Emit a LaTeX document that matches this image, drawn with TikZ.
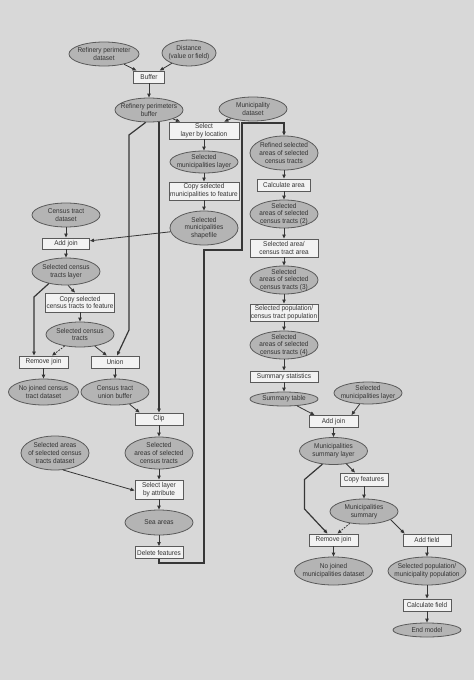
\documentclass[tikz,border=0pt]{standalone}
\usepackage{fontspec}
\setmainfont{Liberation Sans}[FakeStretch=0.92]
\usetikzlibrary{shapes.geometric,arrows.meta}
\definecolor{bg}{HTML}{D8D8D8}
\definecolor{efill}{HTML}{B4B4B4}
\definecolor{bfill}{HTML}{F2F2F2}
\definecolor{ln}{HTML}{363636}
\definecolor{txt}{HTML}{333333}
\definecolor{edge}{HTML}{5A5A5A}
\begin{document}
\begin{tikzpicture}[x=1pt,y=-1pt,
  fs/.style={font=\fontsize{7}{7.7}\selectfont, text=txt},
  ell/.style={ellipse, draw=edge, line width=0.8pt, fill=efill, inner sep=0pt},
  E/.style 2 args={ell, minimum width=#1, minimum height=#2},
  box/.style={rectangle, draw=edge, line width=0.9pt, fill=bfill, inner sep=0pt, align=center, fs},
  B/.style 2 args={box, minimum width=#1, minimum height=#2},
  every label/.style={fs, align=center, inner sep=0pt},
  arr/.style={draw=ln, line width=0.8pt, -{Triangle[length=4pt,width=3.4pt]}},
  link/.style={arr, line width=1.2pt},
  dsh/.style={arr, dash pattern=on 1.8pt off 1.2pt}]
\fill[bg] (0,0) rectangle (474,680);
\useasboundingbox (0,0) rectangle (474,680);

% top
\node[E={70}{24}, label={center:Refinery perimeter\\dataset}] (rpd) at (104,54) {};
\node[E={54}{26}, label={center:Distance\\(value or field)}] (dist) at (189,53) {};
\node[B={31}{12}] (buf) at (149,77) {Buffer};
\node[E={68}{24}, label={center:Refinery perimeters\\buffer}] (rpb) at (149,110) {};
\node[E={68}{24}, label={center:Municipality\\dataset}] (mund) at (253,109) {};

% middle column
\node[B={70}{17}] (slbl) at (204,130.5) {Select\\layer by location};
\node[E={68}{22}, label={center:Selected\\municipalities layer}] (sml) at (204,162) {};
\node[B={70}{18}] (csmf) at (204,191) {Copy selected\\municipalities to feature};
\node[E={68}{34}, label={center:Selected\\municipalities\\shapefile}] (sms) at (204,228) {};

% right column
\node[E={68}{34}, label={center:Refined selected\\areas of selected\\census tracts}] (rsa) at (284,153) {};
\node[B={53}{12}] (calc) at (284,185) {Calculate area};
\node[E={68}{28}, label={center:Selected\\areas of selected\\census tracts (2)}] (sa2) at (284,214) {};
\node[B={68}{18}] (sact) at (284,248) {Selected area/\\census tract area};
\node[E={68}{28}, label={center:Selected\\areas of selected\\census tracts (3)}] (sa3) at (284,280) {};
\node[B={68}{17}] (spct) at (284,312.5) {Selected population/\\census tract population};
\node[E={68}{28}, label={center:Selected\\areas of selected\\census tracts (4)}] (sa4) at (284,345) {};
\node[B={68}{11}] (sstat) at (284,376.5) {Summary statistics};
\node[E={68}{14}, label={center:Summary table}] (st) at (284,399) {};
\node[E={68}{22}, label={center:Selected\\municipalities layer}] (sml2) at (368,393) {};
\node[B={49}{12}] (aj2) at (333.5,421.5) {Add join};
\node[E={68}{27}, label={center:Municipalities\\summary layer}] (msl) at (333.5,451) {};
\node[B={48}{13}] (cf) at (364,479.5) {Copy features};
\node[E={68}{25}, label={center:Municipalities\\summary}] (ms) at (364,511.5) {};
\node[B={49}{12}] (rj2) at (333.5,540) {Remove join};
\node[B={48}{12}] (af) at (427,540) {Add field};
\node[E={78}{28}, label={center:No joined\\municipalities dataset}] (nojm) at (333.5,571) {};
\node[E={78}{28}, label={center:Selected population/\\municipality population}] (spmp) at (427,571) {};
\node[B={48}{12}] (calcf) at (427,605) {Calculate field};
\node[E={68}{14}, label={center:End model}] (endm) at (427,630) {};

% left column
\node[E={68}{24}, label={center:Census tract\\dataset}] (ctd) at (66,215) {};
\node[B={47}{11}] (aj1) at (66,243.5) {Add join};
\node[E={68}{27}, label={center:Selected census\\tracts layer}] (sctl) at (66,271.5) {};
\node[B={69}{19}] (csct) at (80,302.5) {Copy selected\\census tracts to feature};
\node[E={68}{25}, label={center:Selected census\\tracts}] (sct) at (80,334.5) {};
\node[B={49}{12}] (rj1) at (43.5,362) {Remove join};
\node[B={48}{12}] (union) at (115,362) {Union};
\node[E={70}{26}, label={center:No joined census\\tract dataset}] (nojc) at (43.5,392) {};
\node[E={68}{26}, label={center:Census tract\\union buffer}] (ctub) at (115,392) {};
\node[B={48}{12}] (clip) at (159,419) {Clip};
\node[E={68}{32}, label={center:Selected\\areas of selected\\census tracts}] (sasct) at (159,453) {};
\node[E={68}{34}, label={center:Selected areas\\of selected census\\tracts dataset}] (sasctd) at (55,453) {};
\node[B={48}{19}] (slba) at (159,489.5) {Select layer\\by attribute};
\node[E={68}{25}, label={center:Sea areas}] (sea) at (159,522.5) {};
\node[B={48}{12}] (del) at (159,552.5) {Delete features};

% bend points
\coordinate (bA) at (34,297);
\coordinate (bB) at (129,135);
\coordinate (bC) at (129,330);
\coordinate (bD) at (304.5,479.5);
\coordinate (bE) at (304.5,509);
\coordinate (lpA) at (204,563);
\coordinate (lpB) at (242,250);
\coordinate (lpC) at (284,123);

% top connectors
\draw[arr] (rpd) -- (buf);
\draw[arr] (dist) -- (buf);
\draw[arr] (buf) -- (rpb);
\draw[arr] (rpb) -- (slbl);
\draw[arr] (mund) -- (slbl);
\draw[arr] (slbl) -- (sml);
\draw[arr] (sml) -- (csmf);
\draw[arr] (csmf) -- (sms);
\draw[arr] (sms) -- (aj1);

% right chain
\draw[arr] (rsa) -- (calc);
\draw[arr] (calc) -- (sa2);
\draw[arr] (sa2) -- (sact);
\draw[arr] (sact) -- (sa3);
\draw[arr] (sa3) -- (spct);
\draw[arr] (spct) -- (sa4);
\draw[arr] (sa4) -- (sstat);
\draw[arr] (sstat) -- (st);
\draw[arr] (st) -- ([xshift=-19pt]aj2.north);
\draw[arr] (sml2) -- ([xshift=18pt]aj2.north);
\draw[arr] (aj2) -- (msl);
\draw[arr] (msl) -- ([xshift=-9pt]cf.north);
\draw[arr] (cf) -- (ms);
\draw[link] (msl.-130) -- (bD) -- (bE) -- ([xshift=-6pt]rj2.north);
\draw[dsh] (ms) -- ([xshift=4pt]rj2.north);
\draw[arr] (ms.-17) -- ([xshift=2pt]af.north west);
\draw[arr] (rj2) -- (nojm);
\draw[arr] (af) -- (spmp);
\draw[arr] (spmp) -- (calcf);
\draw[arr] (calcf) -- (endm);

% left chain
\draw[arr] (ctd) -- (aj1);
\draw[arr] (aj1) -- (sctl);
\draw[arr] ([xshift=2pt]sctl.south) -- ([xshift=-5pt]csct.north);
\draw[arr] (csct) -- (sct);
\draw[link] (sctl.-145) -- (bA) -- (bA |- rj1.north);
\draw[dsh] (sct) -- (rj1);
\draw[arr] (sct) -- (union);
\draw[link] (rpb.-105) -- (bB) -- (bC) -- ([xshift=2pt]union.north);
\draw[link] (clip.north |- rpb.south) -- (clip.north);
\draw[arr] (rj1) -- (nojc);
\draw[arr] (union) -- (ctub);
\draw[arr] (ctub) -- ([xshift=5pt]clip.north west);
\draw[arr] (clip) -- (sasct);
\draw[arr] (sasct) -- (slba);
\draw[arr] (sasctd.-65) -- ([yshift=-1pt]slba.west);
\draw[arr] (slba) -- (sea);
\draw[arr] (sea) -- (del);

% loop back
\draw[link] (del.south) |- (lpA) -- (lpA |- lpB) -- (lpB) -- (lpB |- lpC) -- (lpC) -- (rsa.north);
\end{tikzpicture}
\end{document}
